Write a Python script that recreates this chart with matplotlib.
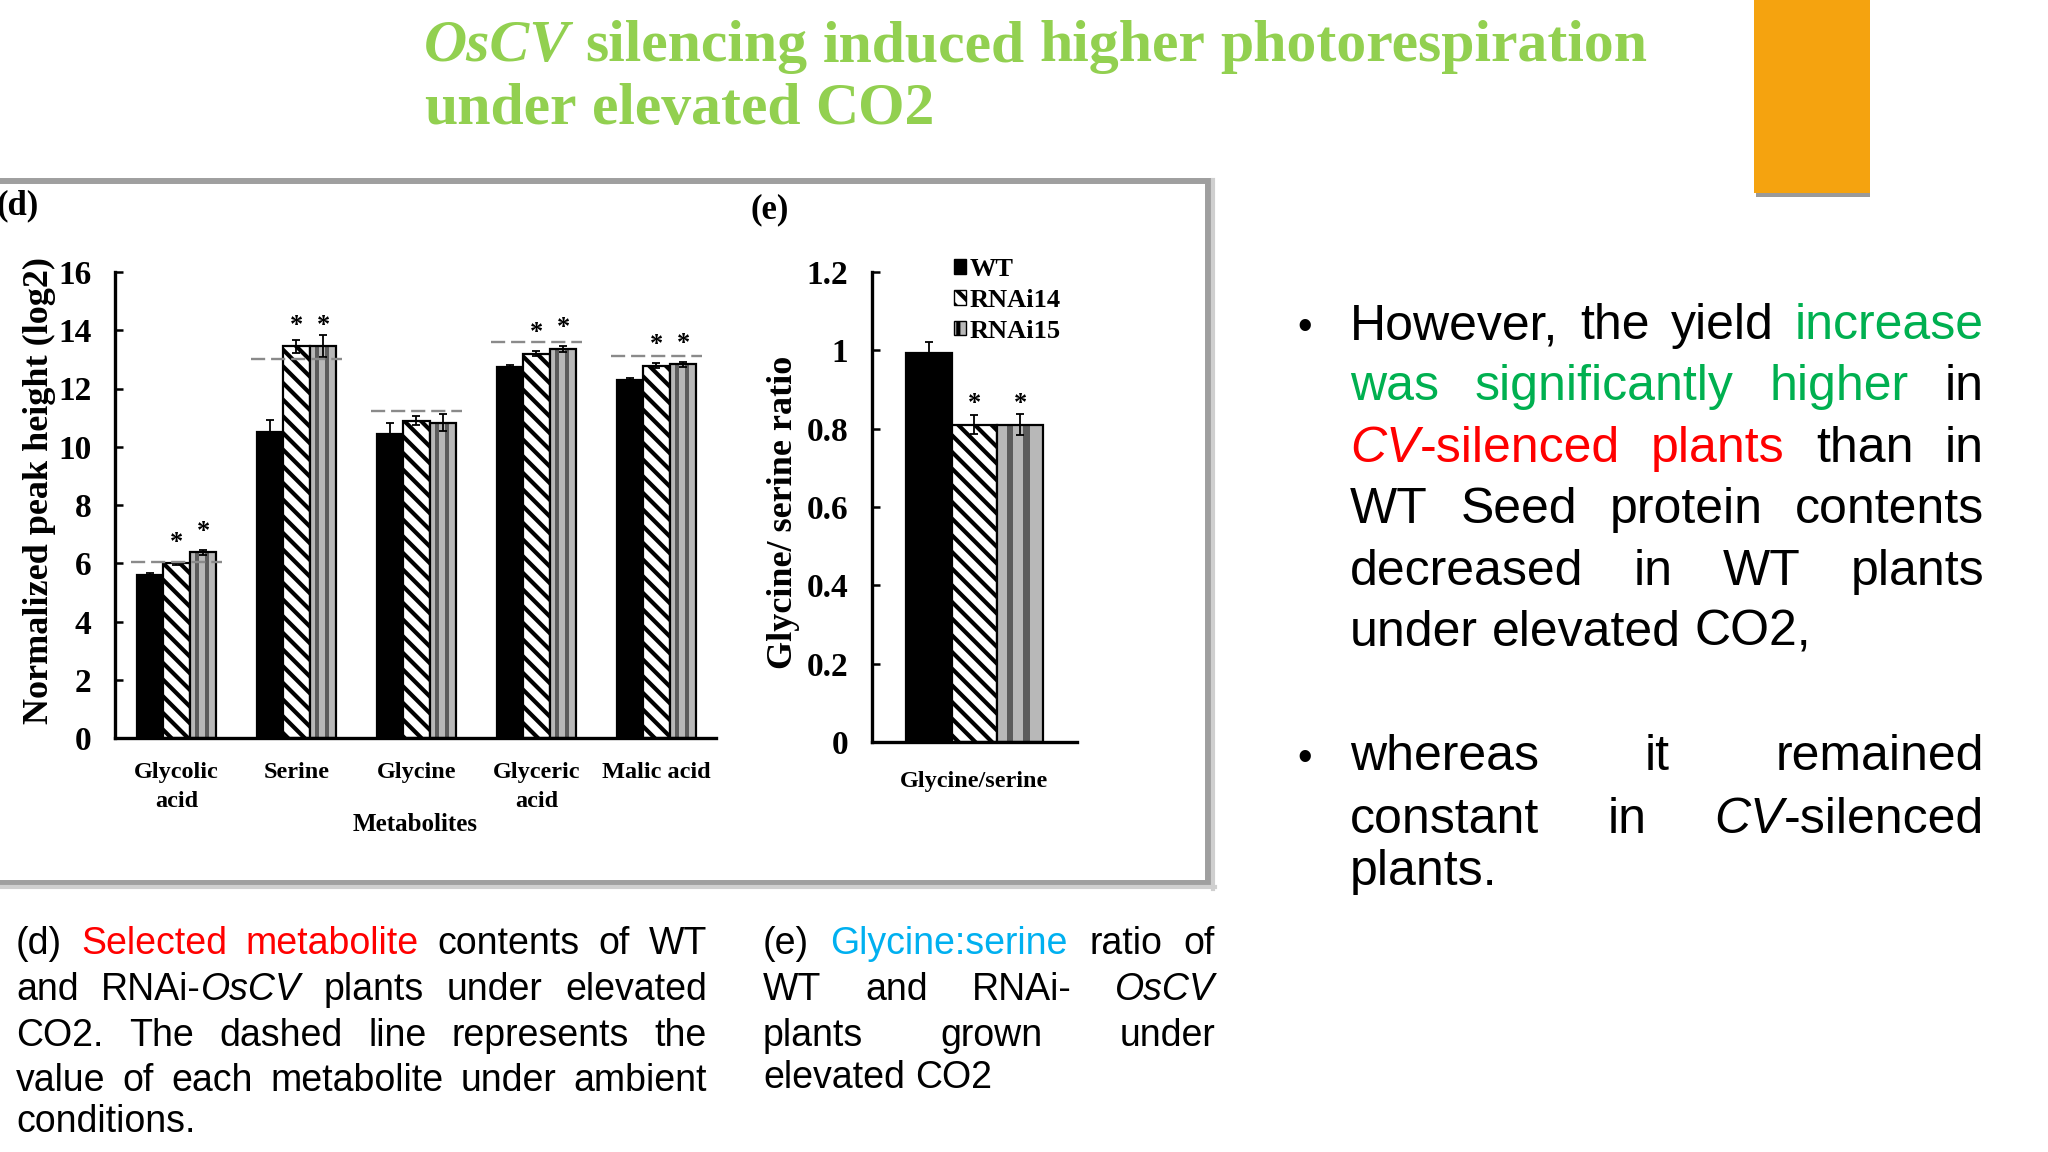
import matplotlib.pyplot as plt
from matplotlib.patches import Rectangle, Patch
import numpy as np

plt.rcParams['font.family'] = 'Liberation Serif'
plt.rcParams['font.weight'] = 'bold'
plt.rcParams['axes.labelweight'] = 'bold'
plt.rcParams['hatch.linewidth'] = 3.0

# ---- data (panel d) ----
metabolites = ['Glycolic\nacid', 'Serine', 'Glycine', 'Glyceric\nacid', 'Malic acid']
wt = [5.6, 10.5, 10.45, 12.75, 12.3]
rnai14 = [6.0, 13.45, 10.9, 13.2, 12.78]
rnai15 = [6.37, 13.45, 10.83, 13.37, 12.83]
wt_err = [0.08, 0.43, 0.37, 0.05, 0.05]
rnai14_err = [0.05, 0.23, 0.15, 0.08, 0.08]
rnai15_err = [0.08, 0.38, 0.3, 0.1, 0.08]
ambient = [6.03, 13.0, 11.22, 13.58, 13.12]
sig = [True, True, False, True, True]

# ---- data (panel e) ----
lines_e = ['WT', 'RNAi14', 'RNAi15']
ratio = [0.994, 0.81, 0.81]
ratio_err = [0.027, 0.024, 0.027]
ratio_sig = [False, True, True]

# ---- slide text ----
K, GR, RD, BL = 'black', '#00B050', '#FF0000', '#00B0F0'
TG = '#92D050'
n, it = 'normal', 'italic'
title = [
    [('OsCV', TG, it), (' silencing induced higher photorespiration', TG, n)],
    [('under elevated CO2', TG, n)],
]
bullet1 = [
    [('However, the yield ', K, n), ('increase', GR, n)],
    [('was significantly higher', GR, n), (' in', K, n)],
    [('CV', RD, it), ('-silenced plants', RD, n), (' than in', K, n)],
    [('WT Seed protein contents', K, n)],
    [('decreased in WT plants', K, n)],
    [('under elevated CO2,', K, n)],
]
bullet2 = [
    [('whereas it remained', K, n)],
    [('constant in ', K, n), ('CV', K, it), ('-silenced', K, n)],
    [('plants.', K, n)],
]
cap_d = [
    [('(d) ', K, n), ('Selected metabolite', RD, n), (' contents of WT', K, n)],
    [('and RNAi-', K, n), ('OsCV', K, it), (' plants under elevated', K, n)],
    [('CO2. The dashed line represents the', K, n)],
    [('value of each metabolite under ambient', K, n)],
    [('conditions.', K, n)],
]
cap_e = [
    [('(e) ', K, n), ('Glycine:serine', BL, n), (' ratio of', K, n)],
    [('WT and RNAi- ', K, n), ('OsCV', K, it)],
    [('plants grown under', K, n)],
    [('elevated CO2', K, n)],
]

fig = plt.figure(figsize=(20.48, 11.52), dpi=100)
bg = fig.add_axes([0, 0, 1, 1], zorder=0)
bg.set_xlim(0, 2048)
bg.set_ylim(1152, 0)
bg.axis('off')
renderer = fig.canvas.get_renderer()

SANS = 'Liberation Sans'
SERIF = 'Liberation Serif'


def width_of(t):
    return t.get_window_extent(renderer).width


def to_words(segs):
    words = [[]]
    for text, color, style in segs:
        parts = text.split(' ')
        for i, p in enumerate(parts):
            if i > 0:
                words.append([])
            if p:
                words[-1].append((p, color, style))
    return [w for w in words if w]


def put_line(segs, x0, y, size, family, weight='normal', x1=None):
    a = bg.text(0, 0, 'x x', fontsize=size, family=family, weight=weight)
    b = bg.text(0, 0, 'xx', fontsize=size, family=family, weight=weight)
    space = width_of(a) - width_of(b)
    a.remove()
    b.remove()
    placed = []
    for w in to_words(segs):
        row = []
        for s, c, st in w:
            t = bg.text(0, y, s, fontsize=size, family=family, weight=weight,
                        color=c, fontstyle=st, va='baseline', ha='left')
            row.append((t, width_of(t)))
        placed.append(row)
    total = sum(e for row in placed for _, e in row)
    gap = space
    if x1 is not None and len(placed) > 1:
        gap = (x1 - x0 - total) / (len(placed) - 1)
    x = x0
    for row in placed:
        for t, e in row:
            t.set_x(x)
            x += e
        x += gap


# title
for segs, y in zip(title, [61, 124]):
    put_line(segs, 424, y, 43, SERIF, 'bold')

# orange block
bg.add_patch(Rectangle((1754, -5), 116, 198, color='#F5A30F', lw=0))
bg.add_patch(Rectangle((1756, 193), 114, 4, color='#9a9a9a', lw=0))

# bullets
for segs, y, last in zip(bullet1, [339, 400, 462, 523, 585, 646], [0, 0, 0, 0, 0, 1]):
    put_line(segs, 1350, y, 36, SANS, x1=None if last else 1984)
for segs, y, last in zip(bullet2, [770, 833, 885], [0, 0, 1]):
    put_line(segs, 1350, y, 36, SANS, x1=None if last else 1984)
for y in (339, 770):
    bg.text(1297, y, '\u2022', fontsize=30, family=SANS, weight='normal', va='baseline')

# captions
for segs, y, last in zip(cap_d, [954, 1000, 1046, 1091, 1132], [0, 0, 0, 0, 1]):
    put_line(segs, 16, y, 27, SANS, x1=None if last else 707)
for segs, y, last in zip(cap_e, [954, 1000, 1046, 1088], [0, 0, 0, 1]):
    put_line(segs, 763, y, 27, SANS, x1=None if last else 1215)

# figure frame
bg.add_patch(Rectangle((-20, 181), 1228, 702, fill=False, edgecolor='#9f9f9f', lw=4.3))
bg.plot([1213, 1213], [180, 889], color='#cfcfcf', lw=3)
bg.plot([-5, 1215], [887, 887], color='#cfcfcf', lw=3)
bg.text(-3, 214, '(d)', fontsize=25, family=SERIF, weight='bold', va='baseline')
bg.text(750, 218, '(e)', fontsize=25, family=SERIF, weight='bold', va='baseline')

STRIPE = '#5c5c5c'
LIGHT = '#b8b8b8'


def style_axes(ax):
    ax.set_facecolor('none')
    for s in ('top', 'right'):
        ax.spines[s].set_visible(False)
    for s in ('left', 'bottom'):
        ax.spines[s].set_linewidth(2.4)
    ax.tick_params(axis='y', direction='in', length=6, width=1.8, labelsize=24, pad=17)
    ax.tick_params(axis='x', length=0, labelsize=17.5)


def striped_bars(ax, x, h, w):
    ax.bar(x, h, w, color=LIGHT, lw=0, zorder=2)
    for off in (-0.22, 0.14):
        ax.bar(np.asarray(x) + off * w, h, w * 0.15, color=STRIPE, lw=0, zorder=2.1)
    ax.bar(x, h, w, fill=False, edgecolor='black', lw=1.6, zorder=2.2)


# ---- panel d ----
axd = fig.add_axes([115 / 2048, 1 - 738 / 1152, 601 / 2048, 466 / 1152], zorder=1)
style_axes(axd)
x = np.arange(len(metabolites))
bw = 0.222
axd.bar(x - bw, wt, bw, color='black', edgecolor='black', lw=1.6, zorder=2)
axd.bar(x, rnai14, bw, color='white', edgecolor='black', hatch='\\\\', lw=1.6, zorder=2)
striped_bars(axd, x + bw, rnai15, bw)
for off, v, e in ((-bw, wt, wt_err), (0, rnai14, rnai14_err), (bw, rnai15, rnai15_err)):
    axd.errorbar(x + off, v, yerr=e, fmt='none', ecolor='black', elinewidth=1.3,
                 capsize=3, capthick=1.3, zorder=3)
axd.hlines(ambient, x - 1.5 * bw - 0.05, x + 1.5 * bw + 0.05, colors='#8a8a8a',
           linestyles=(0, (6, 2.5)), linewidth=1.7, zorder=4)
for i in range(len(metabolites)):
    if sig[i]:
        for off, v in ((0, rnai14), (bw, rnai15)):
            axd.annotate('*', (x[i] + off, v[i]), xytext=(0, 15), textcoords='offset points',
                         ha='center', va='center', fontsize=19)
axd.set_xlim(-0.5125, 4.496)
axd.set_ylim(0, 16)
axd.set_yticks(range(0, 17, 2))
axd.set_xticks(x)
axd.set_xticklabels(metabolites, linespacing=1.55)
axd.tick_params(axis='x', pad=17)
axd.set_ylabel('Normalized peak height (log2)', fontsize=26, va='center')
axd.yaxis.set_label_coords(-0.125, 0.532)
axd.set_xlabel('Metabolites', fontsize=18, va='center')
axd.xaxis.set_label_coords(0.5, -0.186)

# ---- panel e ----
axe = fig.add_axes([872 / 2048, 1 - 742 / 1152, 205 / 2048, 470 / 1152], zorder=1)
style_axes(axe)
xe = np.arange(len(lines_e))
axe.bar(xe[0], ratio[0], 1, color='black', edgecolor='black', lw=1.6, zorder=2)
axe.bar(xe[1], ratio[1], 1, color='white', edgecolor='black', hatch='\\\\', lw=1.6, zorder=2)
striped_bars(axe, [xe[2]], [ratio[2]], 1)
axe.errorbar(xe, ratio, yerr=ratio_err, fmt='none', ecolor='black', elinewidth=1.3,
             capsize=3, capthick=1.3, zorder=3)
for i in range(len(lines_e)):
    if ratio_sig[i]:
        axe.annotate('*', (xe[i], ratio[i]), xytext=(0, 15), textcoords='offset points',
                     ha='center', va='center', fontsize=19)
axe.set_xlim(-1.24, 3.245)
axe.set_ylim(0, 1.2)
yt = [0, 0.2, 0.4, 0.6, 0.8, 1.0, 1.2]
axe.set_yticks(yt)
axe.set_yticklabels(['0', '0.2', '0.4', '0.6', '0.8', '1', '1.2'])
axe.set_xticks([1])
axe.set_xticklabels(['Glycine/serine'])
axe.tick_params(axis='x', pad=21)
axe.set_ylabel('Glycine/ serine ratio', fontsize=26, va='center')
axe.yaxis.set_label_coords(-0.43, 0.489)
handles = [Patch(facecolor='black', edgecolor='black'),
           Patch(facecolor='white', edgecolor='black', hatch='\\\\'),
           Patch(facecolor=LIGHT, edgecolor='black', hatch='|')]
axe.legend(handles, lines_e, loc='upper left', bbox_to_anchor=(0.40, 1.03), frameon=False,
           fontsize=19, handlelength=0.45, handleheight=0.45, handletextpad=0.15,
           labelspacing=0.3, borderpad=0, borderaxespad=0)

fig.savefig('out.png', dpi=100)
